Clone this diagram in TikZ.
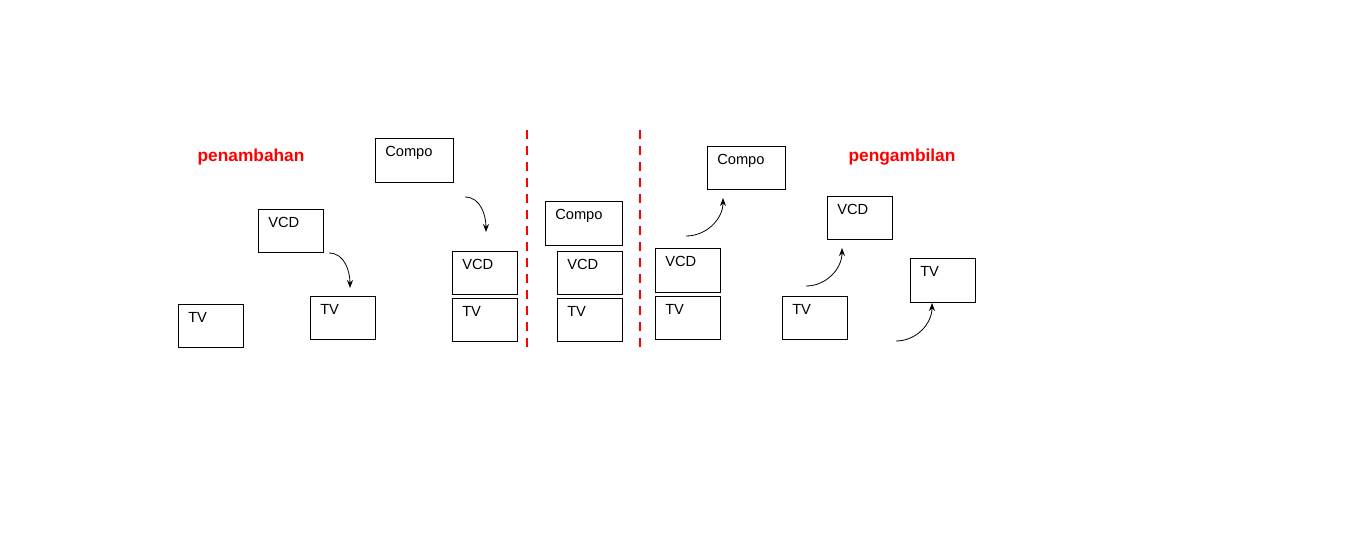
\documentclass[tikz,border=0pt]{standalone}
\usepackage{fontspec}
\setmainfont{Liberation Sans}
\usetikzlibrary{arrows.meta}
\begin{document}
\begin{tikzpicture}[x=0.75pt,y=-0.75pt,
  bx/.style={draw,line width=0.6pt},
  lb/.style={anchor=north west,inner sep=0pt,font=\fontsize{11}{13}\selectfont},
  ttl/.style={text=red,font=\bfseries\fontsize{13}{15}\selectfont},
  arr/.style={-{Stealth[length=6pt,width=4.5pt]},line width=0.6pt},
  sep/.style={red,dashed,line width=1.8pt,dash pattern=on 7pt off 5pt}]
\useasboundingbox (0,0) rectangle (1359,557);
\newcommand{\bxx}[6]{\draw[bx] (#2,#3) rectangle (#4,#5); \node[lb] (#1) at (#2+10,#3+8) {#6};}
\bxx{tva}{178}{304}{243}{347}{TV}
\bxx{vcda}{258}{209}{323}{252}{VCD}
\bxx{tvb}{310}{296}{375}{339}{TV}
\bxx{compoa}{375}{138}{453}{182}{Compo}
\bxx{vcdb}{452}{251}{517}{294}{VCD}
\bxx{tvc}{452}{298}{517}{341}{TV}
\bxx{compob}{545}{201}{622}{245}{Compo}
\bxx{vcdc}{557}{251}{622}{294}{VCD}
\bxx{tvd}{557}{298}{622}{341}{TV}
\bxx{vcdd}{655}{248}{720}{292}{VCD}
\bxx{tve}{655}{296}{720}{339}{TV}
\bxx{compoc}{707}{146}{785}{189}{Compo}
\bxx{vcde}{827}{196}{892}{239}{VCD}
\bxx{tvf}{782}{296}{847}{339}{TV}
\bxx{tvg}{910}{258}{975}{302}{TV}
\node[ttl] (t1) at (251,157) {penambahan};
\node[ttl] (t2) at (902,157) {pengambilan};
\coordinate (d1a) at (527,130); \coordinate (d1b) at (527,353);
\coordinate (d2a) at (640,130); \coordinate (d2b) at (640,353);
\draw[sep] (d1a) -- (d1b);
\draw[sep] (d2a) -- (d2b);
\coordinate (a1s) at (329,253); \coordinate (a1e) at (350,288);
\coordinate (a2s) at (465,197); \coordinate (a2e) at (486,232);
\coordinate (a3s) at (686,236); \coordinate (a3e) at (723,198);
\coordinate (a4s) at (806,286); \coordinate (a4e) at (842,248);
\coordinate (a5s) at (896,341); \coordinate (a5e) at (932,303);
\draw[arr] (a1s) to[out=0,in=90] (a1e);
\draw[arr] (a2s) to[out=0,in=90] (a2e);
\draw[arr] (a3s) to[out=0,in=-90] (a3e);
\draw[arr] (a4s) to[out=0,in=-90] (a4e);
\draw[arr] (a5s) to[out=0,in=-90] (a5e);
\end{tikzpicture}
\end{document}
